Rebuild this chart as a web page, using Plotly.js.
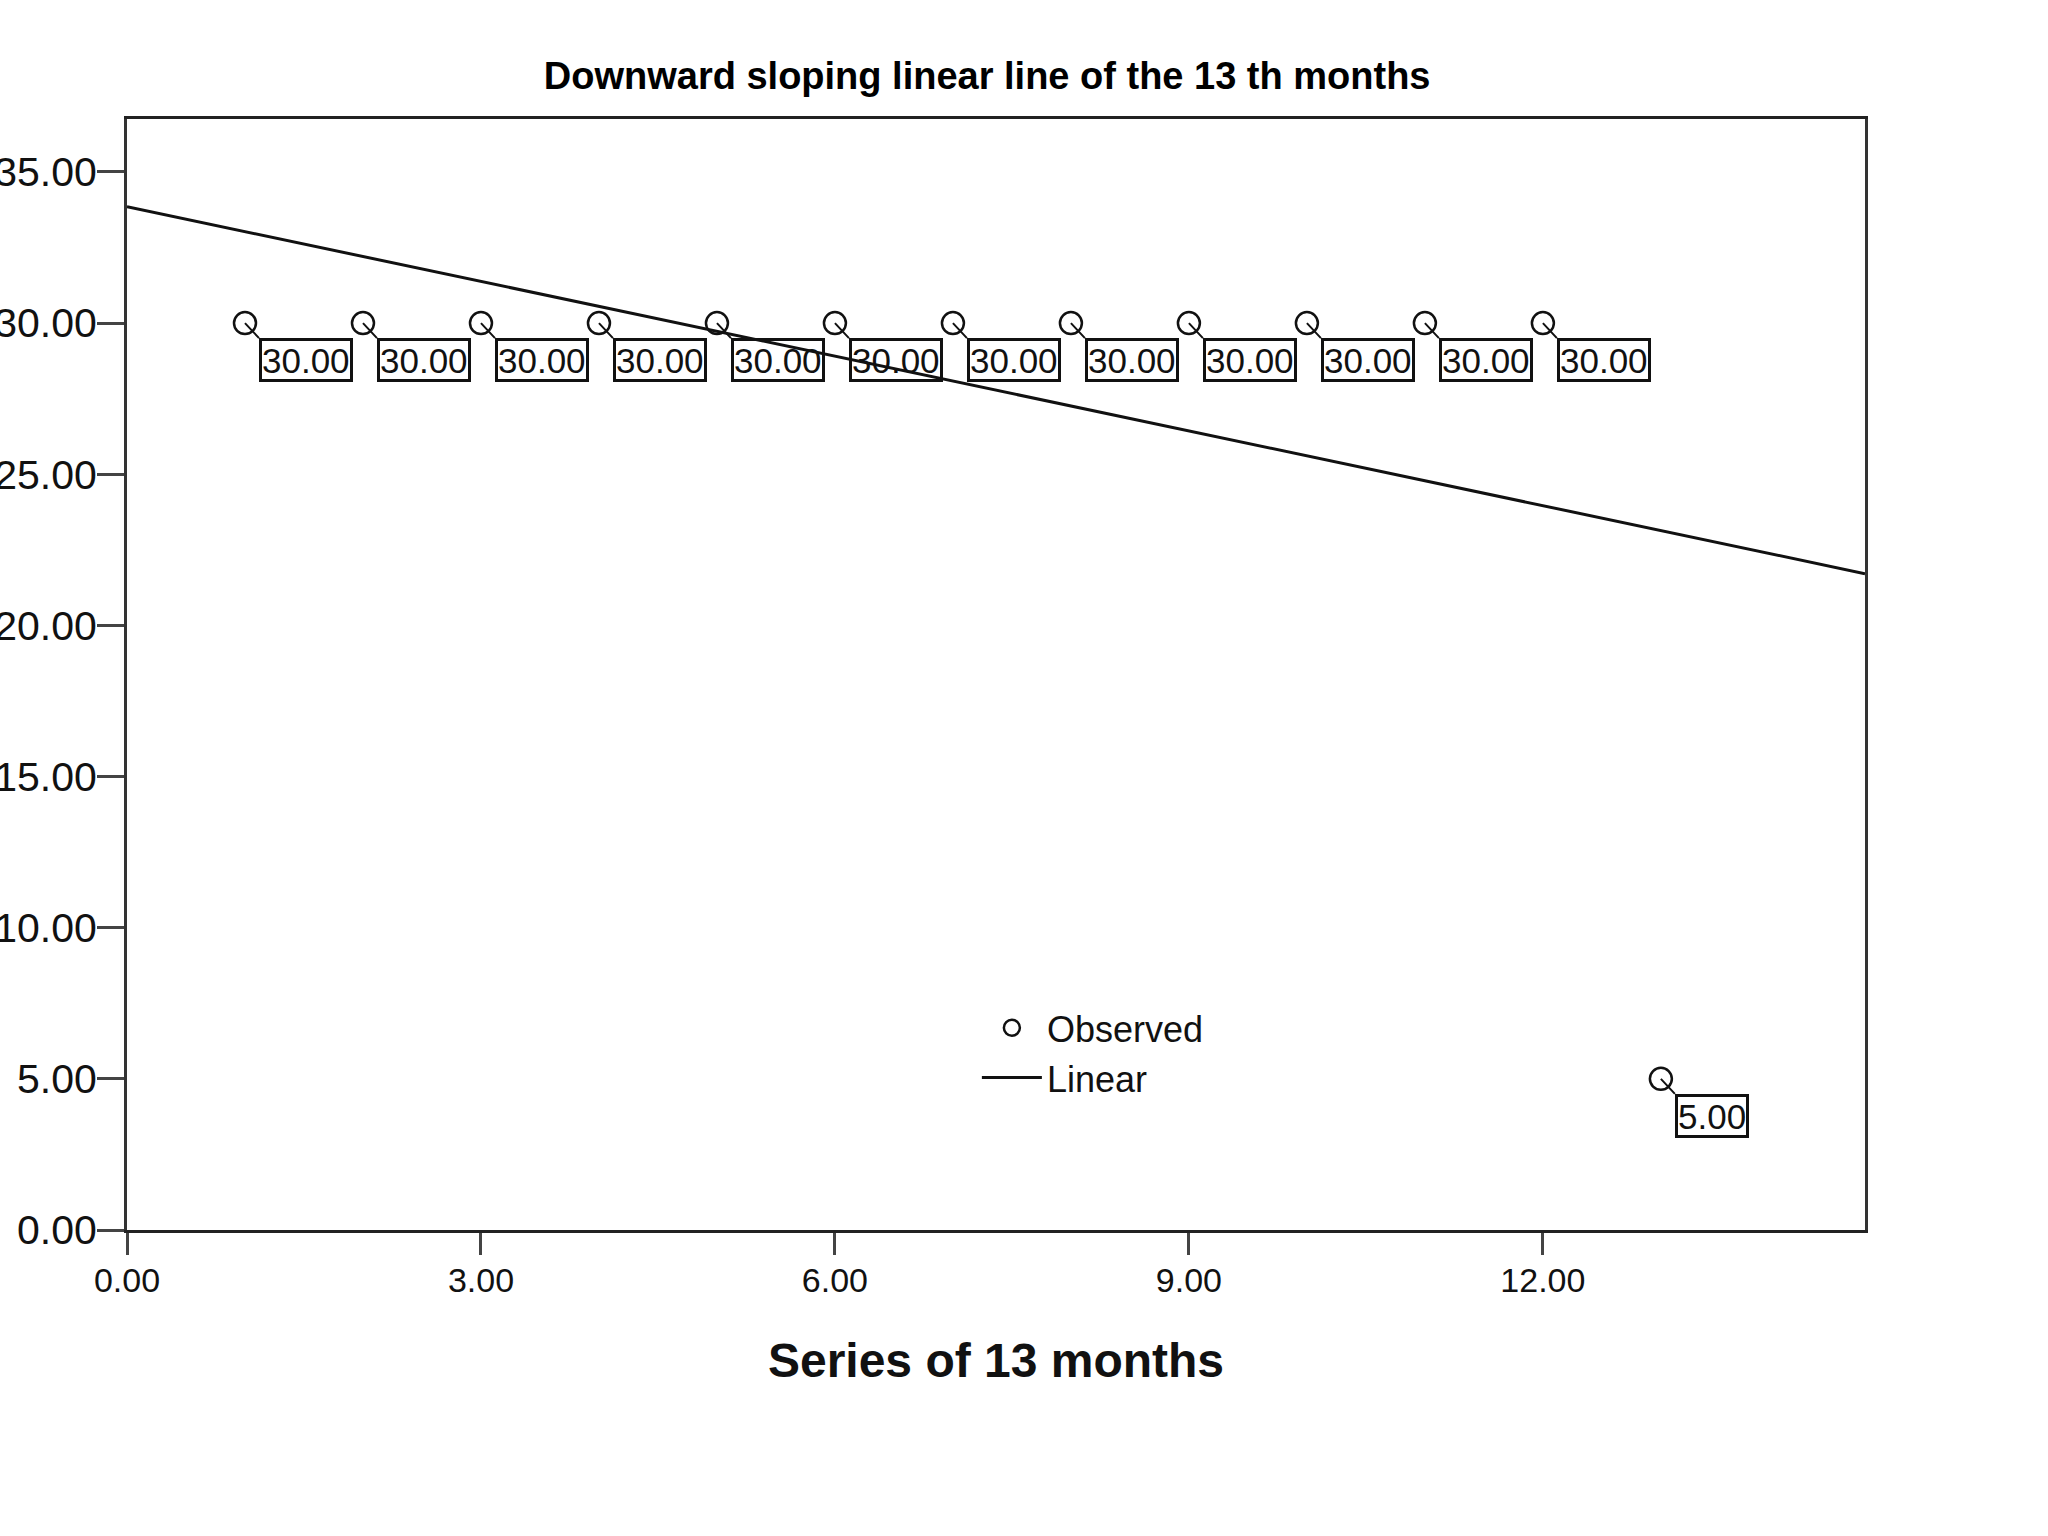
<!DOCTYPE html>
<html>
<head>
<meta charset="utf-8">
<script src="https://cdn.plot.ly/plotly-3.0.1.min.js"></script>
<style>
  html, body { margin: 0; padding: 0; background: #fff; }
  #chart { width: 2048px; height: 1536px; }
</style>
</head>
<body>
<div id="chart"></div>
<script>
// observed values for the 13 months
const months = [1, 2, 3, 4, 5, 6, 7, 8, 9, 10, 11, 12, 13];
const observed = [30, 30, 30, 30, 30, 30, 30, 30, 30, 30, 30, 30, 5];

// linear fit at the two ends of the x axis
const fitX = [0, 14.73];
const fitY = [33.85, 21.71];

const xTicks = [0, 3, 6, 9, 12];
const yTicks = [0, 5, 10, 15, 20, 25, 30, 35];

const sans = '"Liberation Sans", Arial, sans-serif';

let observedTrace = {
    x: months,
    y: observed,
    name: "Observed",
    mode: "markers",
    type: "scatter",
    marker: {
        symbol: "circle-open",
        size: 22,
        color: "#111",
        line: { color: "#111", width: 2.5 }
    },
    cliponaxis: false
};

let linearTrace = {
    x: fitX,
    y: fitY,
    name: "Linear",
    mode: "lines",
    type: "scatter",
    line: { color: "#111", width: 3 }
};

// value boxes hanging off the lower right of each point
let labels = months.map((m, i) => ({
    x: m,
    y: observed[i],
    xref: "x",
    yref: "y",
    text: observed[i].toFixed(2),
    showarrow: true,
    arrowhead: 0,
    arrowwidth: 2,
    arrowcolor: "#111",
    standoff: 0,
    startstandoff: 0,
    ax: 14,
    ay: 15,
    xanchor: "left",
    yanchor: "top",
    height: 38,
    borderpad: 0,
    borderwidth: 3,
    bordercolor: "#111",
    bgcolor: "rgba(0,0,0,0)",
    font: { family: sans, size: 35, color: "#111" }
}));

let layout = {
    width: 2048,
    height: 1536,
    paper_bgcolor: "#fff",
    plot_bgcolor: "#fff",
    margin: { l: 127, r: 183, t: 119, b: 306 },
    title: {
        text: "<b>Downward sloping linear line of the 13 th months</b>",
        font: { family: sans, size: 38, color: "#000" },
        x: 0.482,
        xanchor: "center",
        y: 0.951,
        yanchor: "middle"
    },
    xaxis: {
        range: [0, 14.73],
        tickvals: xTicks,
        tickformat: ".2f",
        ticks: "outside",
        ticklen: 22,
        tickwidth: 3,
        tickcolor: "#444",
        ticklabelstandoff: -4,
        showgrid: false,
        zeroline: false,
        showline: true,
        mirror: true,
        linecolor: "#222",
        linewidth: 3,
        tickfont: { family: sans, size: 34, color: "#111" },
        title: {
            text: "<b>Series of 13 months</b>",
            font: { family: sans, size: 48, color: "#111" },
            standoff: 46
        }
    },
    yaxis: {
        range: [0, 36.75],
        tickvals: yTicks,
        tickformat: ".2f",
        ticks: "outside",
        ticklen: 27,
        tickwidth: 3,
        tickcolor: "#444",
        ticklabelstandoff: -8,
        showgrid: false,
        zeroline: false,
        showline: true,
        mirror: true,
        linecolor: "#333",
        linewidth: 3,
        tickfont: { family: sans, size: 41, color: "#111" }
    },
    showlegend: true,
    legend: {
        x: 0.489,
        y: 0.209,
        xanchor: "left",
        yanchor: "top",
        itemwidth: 60,
        bgcolor: "rgba(0,0,0,0)",
        borderwidth: 0,
        font: { family: sans, size: 36, color: "#111" },
        tracegroupgap: 0
    },
    annotations: labels
};

Plotly.newPlot("chart", [observedTrace, linearTrace], layout, { staticPlot: true, displayModeBar: false });
</script>
</body>
</html>
